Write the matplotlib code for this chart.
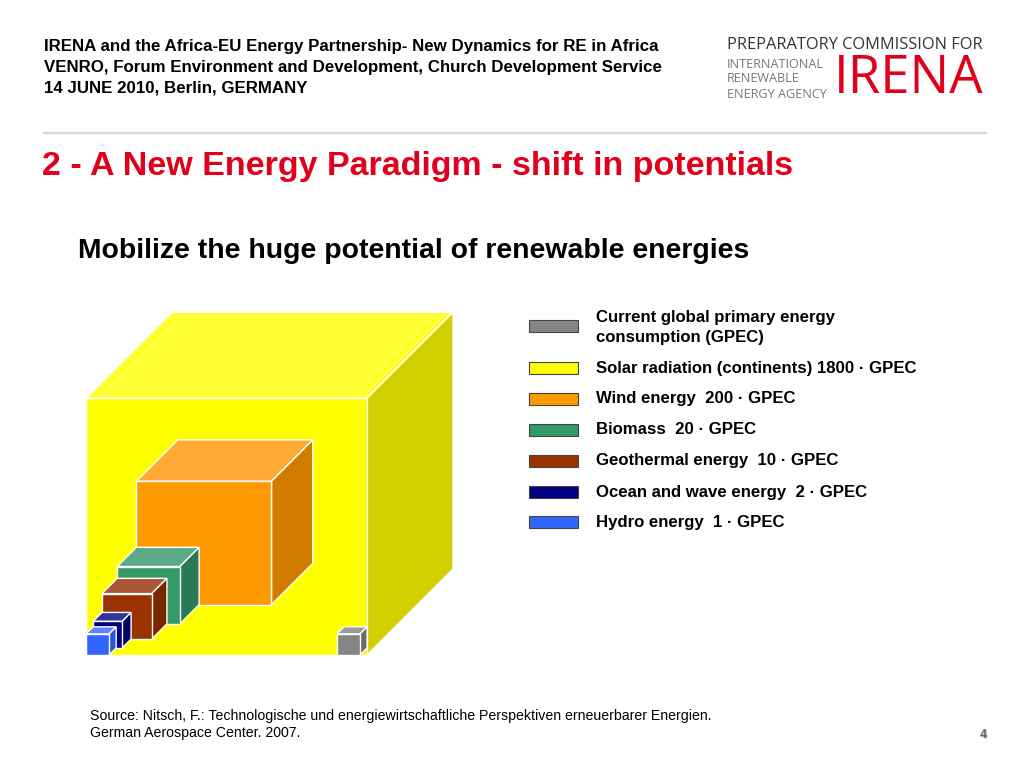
import matplotlib.pyplot as plt
from matplotlib.patches import Polygon, Rectangle
import numpy as np

# energy potentials, in multiples of current global primary energy consumption
sources = ["Current global primary energy\nconsumption (GPEC)",
           "Solar radiation (continents) 1800 \u00b7 GPEC",
           "Wind energy  200 \u00b7 GPEC",
           "Biomass  20 \u00b7 GPEC",
           "Geothermal energy  10 \u00b7 GPEC",
           "Ocean and wave energy  2 \u00b7 GPEC",
           "Hydro energy  1 \u00b7 GPEC"]
multiples = [1, 1800, 200, 20, 10, 2, 1]
front_colors = ["#858585", "#FFFF00", "#FF9900", "#339966", "#993300", "#000080", "#3366FF"]
top_colors = ["#9A9A9A", "#FFFF33", "#FFAA33", "#5CAA85", "#AA5533", "#333399", "#5C85FF"]
side_colors = ["#6A6A6A", "#D2D000", "#D27D00", "#2A7A55", "#7A2800", "#000066", "#2A55D6"]

header = ["IRENA and the Africa-EU Energy Partnership- New Dynamics for RE in Africa",
          "VENRO, Forum Environment and Development, Church Development Service",
          "14 JUNE 2010, Berlin, GERMANY"]
title = "2 - A New Energy Paradigm - shift in potentials"
subtitle = "Mobilize the huge potential of renewable energies"
source = ["Source: Nitsch, F.: Technologische und energiewirtschaftliche Perspektiven erneuerbarer Energien.",
          "German Aerospace Center. 2007."]

plt.rcParams['font.family'] = ['Liberation Sans', 'DejaVu Sans']
LOGO = ['Open Sans', 'Liberation Sans', 'DejaVu Sans']
RED = '#E0001B'

fig = plt.figure(figsize=(10.24, 7.68), dpi=100)
ax = fig.add_axes([0, 0, 1, 1])
ax.set_xlim(0, 1024)
ax.set_ylim(768, 0)
ax.axis('off')

# cube scale: edge length ~ cube root of the energy amount
kw, kh, kd = 23.1, 21.1, 7.07


def cube(x0, y0, v, fc, tc, sc):
    s = np.cbrt(v)
    w, h, d = kw * s, kh * s, kd * s
    ec = dict(edgecolor='white', linewidth=1.0)
    ax.add_patch(Polygon([(x0, y0 - h), (x0 + d, y0 - h - d), (x0 + w + d, y0 - h - d), (x0 + w, y0 - h)],
                         closed=True, facecolor=tc, **ec))
    ax.add_patch(Polygon([(x0 + w, y0 - h), (x0 + w + d, y0 - h - d), (x0 + w + d, y0 - d), (x0 + w, y0)],
                         closed=True, facecolor=sc, **ec))
    ax.add_patch(Rectangle((x0, y0 - h), w, h, facecolor=fc, **ec))


# big solar cube
bx, by = 86, 655
cube(bx, by, multiples[1], front_colors[1], top_colors[1], side_colors[1])

# smaller ones nested from the front-left corner, each behind the previous one
order = [6, 5, 4, 3, 2]
offsets = []
off = 0.0
for i in order:
    offsets.append(off)
    off += kd * np.cbrt(multiples[i])
for i, o in reversed(list(zip(order, offsets))):
    cube(bx + o, by - o, multiples[i], front_colors[i], top_colors[i], side_colors[i])

# GPEC reference cube in the front-right corner
big_w = kw * np.cbrt(multiples[1])
gw = kw * np.cbrt(multiples[0])
cube(bx + big_w - gw - 7, by, multiples[0], front_colors[0], top_colors[0], side_colors[0])

# legend
leg_y = [326, 368, 399, 430, 461, 492, 522]
for lab, fc, y in zip(sources, front_colors, leg_y):
    ax.add_patch(Rectangle((529, y - 6), 49, 12, facecolor=fc, edgecolor='#444444', linewidth=0.8))
    ty = y + 1.5 if '\n' in lab else y
    ax.text(596, ty, lab, fontsize=12.1, fontweight='bold', va='center', ha='left', linespacing=1.38)

# header
for k, line in enumerate(header):
    ax.text(44, 47 + k * 20.5, line, fontsize=12.2, fontweight='bold', va='center')

# logo
ax.text(727, 45, "PREPARATORY COMMISSION FOR", fontsize=11.8, color='#333333', family=LOGO, va='center')
for k, line in enumerate(["INTERNATIONAL", "RENEWABLE", "ENERGY AGENCY"]):
    ax.text(727, 64 + k * 15, line, fontsize=9.1, color='#777777', family=LOGO, va='center')
ax.text(834, 79, "IRENA", fontsize=38, color=RED, family=LOGO, va='center')

ax.plot([44, 986], [133, 133], color='#D8D8D8', linewidth=1.6)

ax.text(42, 167, title, fontsize=24.5, fontweight='bold', color=RED, va='center')
ax.text(78, 251, subtitle, fontsize=20.4, fontweight='bold', va='center')

for k, line in enumerate(source):
    ax.text(90, 716 + k * 17, line, fontsize=10.2, va='center')
ax.text(981, 736, "4", fontsize=9, color='#BBBBBB', fontweight='bold', va='center')
ax.text(980, 735, "4", fontsize=9, color='#666666', fontweight='bold', va='center')

fig.savefig("out.png", dpi=100)
